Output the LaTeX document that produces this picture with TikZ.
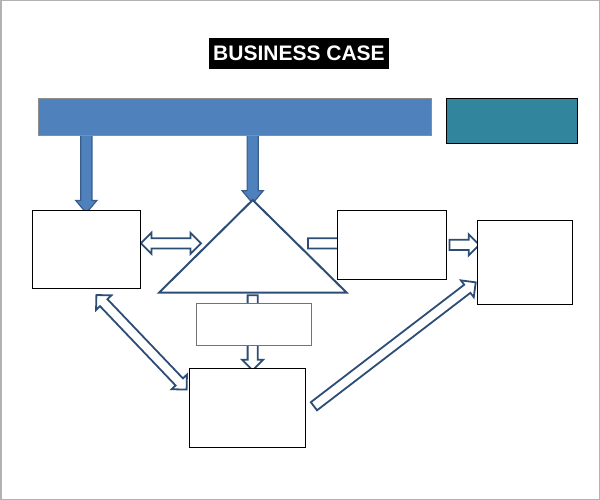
\documentclass[tikz,border=0pt]{standalone}
\usepackage{fontspec}
\newfontfamily\titlefont{Liberation Sans}
\usetikzlibrary{shapes.arrows,calc,backgrounds}
\definecolor{barblue}{HTML}{4F81BD}
\definecolor{darkblue}{HTML}{385D8A}
\definecolor{navy}{HTML}{2C4D75}
\definecolor{tealbox}{HTML}{31859C}
\tikzset{
	box/.style={draw=black, fill=white, line width=1.2pt, inner sep=0pt},
	solidarrow/.style={single arrow, draw=darkblue, fill=barblue, line width=1.2pt, inner sep=0pt, inner ysep=5pt, minimum width=0pt, single arrow head extend=5pt, single arrow tip angle=80},
	hollowarrow/.style={single arrow, draw=navy, fill=white, line width=1.8pt, inner sep=0pt, inner ysep=4.2pt, minimum width=0pt, single arrow head extend=5.5pt},
	hollowdouble/.style={double arrow, draw=navy, fill=white, line width=1.8pt, inner sep=0pt, inner ysep=4.2pt, minimum width=0pt, double arrow head extend=5.5pt}
}
\newcommand{\blockarrow}[3]{%
	\path let \p1=($(#3)-(#2)$), \n1={veclen(\x1,\y1)}, \n2={atan2(\y1,\x1)} in
		node[#1, minimum height=\n1, rotate=\n2] at ($(#2)!0.5!(#3)$) {};}
\begin{document}
\begin{tikzpicture}[x=1pt, y=-1pt]
	\useasboundingbox (0,0) rectangle (600,500);
	% Frame
	\draw[black!30, line width=1.5pt] (0.75,0.75) rectangle (599.25,499.25);
	
	% Title
	\node[fill=black, text=white, font={\titlefont\bfseries\fontsize{21}{25}\selectfont}, minimum width=180, minimum height=31, inner sep=0pt] (title) at (299,53.5) {BUSINESS CASE};
	
	% Top bars
	\node[fill=barblue, draw=black!45, line width=0.8pt, minimum width=393, minimum height=37, inner sep=0pt] (bar) at (235,116.5) {};
	\node[fill=tealbox, draw=black, line width=1.5pt, minimum width=131, minimum height=45, inner sep=0pt] (note) at (512,121) {};
	
	% Boxes
	\node[box, minimum width=108, minimum height=78] (lbox) at (86.3,249.3) {};
	\node[box, minimum width=109, minimum height=69] (mbox) at (391.8,244.8) {};
	\node[box, minimum width=95.4, minimum height=84] (rbox) at (525,262.3) {};
	\node[box, draw=black!55, minimum width=115.4, minimum height=42] (sbox) at (254,324.3) {};
	\node[box, minimum width=116.4, minimum height=79] (lowbox) at (247.5,407.8) {};
	
	% Triangle
	\coordinate (tritop) at (252.7,200);
	\coordinate (trileft) at (159,292.7);
	\coordinate (triright) at (346.7,292.7);
	\draw[navy, line width=2pt, fill=white] (tritop) -- (trileft) -- (triright) -- cycle;
	
	% Connection points
	\coordinate (lboxtop) at (lbox.north |- bar.center);
	\coordinate (tritopbar) at (tritop |- bar.center);
	\coordinate (lboxside) at ($(lbox.east)+(0,-6)$);
	\coordinate (trilside) at (201,243.3);
	\coordinate (trirside) at (305.5,243.3);
	\coordinate (mboxin) at ($(mbox.west)+(16,-1.5)$);
	\coordinate (rboxside) at (mbox.east -| rbox.west);
	\coordinate (tribase) at (tritop |- trileft);
	\coordinate (lowboxtop) at (tritop |- lowbox.north);
	\coordinate (lboxcorner) at ($(lbox.south)+(10,6)$);
	\coordinate (lowboxcorner) at ($(lowbox.north west)+(-2,22)$);
	\coordinate (lowboxside) at ($(lowbox.east)+(5.6,0)$);
	\coordinate (rboxcorner) at ($(rbox.south west)+(-3,-21)$);
	
	% Arrows
	\begin{scope}[on background layer]
		\blockarrow{solidarrow}{lboxtop}{lbox.north}
		\blockarrow{solidarrow}{tritopbar}{tritop}
		\blockarrow{hollowdouble}{lboxside}{trilside}
		\blockarrow{hollowarrow}{trirside}{mboxin}
		\blockarrow{hollowarrow}{mbox.east}{rboxside}
		\blockarrow{hollowarrow}{tribase}{lowboxtop}
		\blockarrow{hollowdouble}{lboxcorner}{lowboxcorner}
		\blockarrow{hollowarrow}{lowboxside}{rboxcorner}
	\end{scope}
\end{tikzpicture}
\end{document}
